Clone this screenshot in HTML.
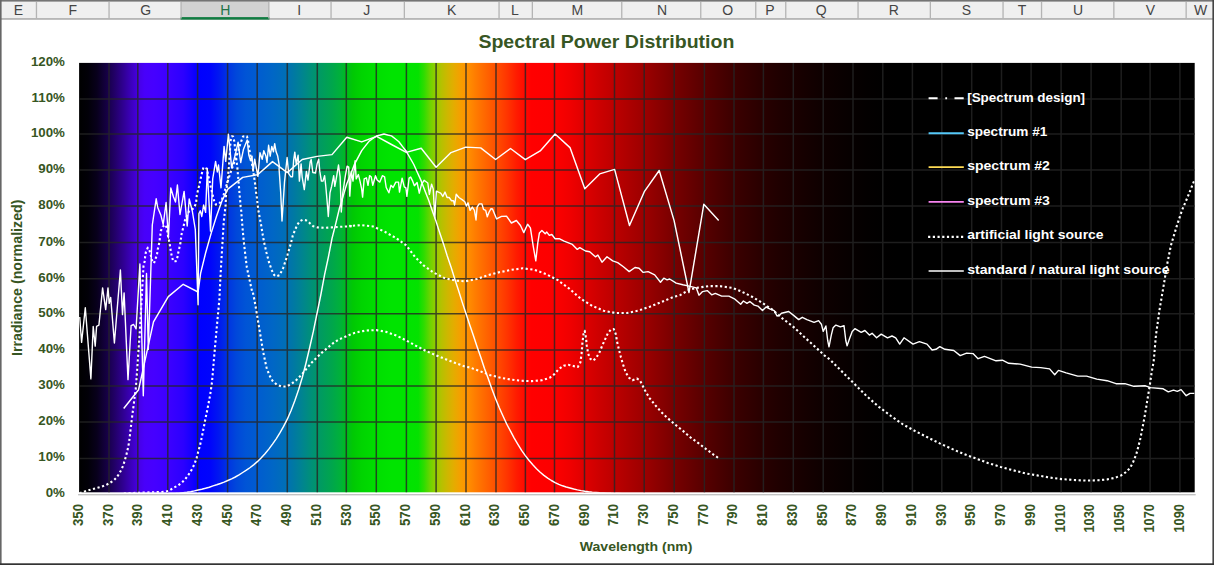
<!DOCTYPE html>
<html lang="en"><head><meta charset="utf-8"><title>Spectral Power Distribution</title>
<style>
html,body{margin:0;padding:0;background:#fff;}
body{width:1214px;height:565px;overflow:hidden;position:relative;font-family:"Liberation Sans",sans-serif;}
svg{position:absolute;left:0;top:0;display:block;}
text{font-family:"Liberation Sans",sans-serif;}
.hd{font-size:14px;fill:#444;text-anchor:middle;}
.ax{font-size:13px;font-weight:bold;fill:#375623;}
.lg{font-size:12.3px;font-weight:bold;fill:#fff;}
</style></head><body>
<svg width="1214" height="565" viewBox="0 0 1214 565">
<defs><linearGradient id="spec" x1="0" y1="0" x2="1" y2="0"><stop offset="0.0000" stop-color="#000000"/><stop offset="0.0080" stop-color="#020008"/><stop offset="0.0160" stop-color="#08001c"/><stop offset="0.0240" stop-color="#140040"/><stop offset="0.0320" stop-color="#220068"/><stop offset="0.0400" stop-color="#300094"/><stop offset="0.0480" stop-color="#3e00c4"/><stop offset="0.0533" stop-color="#4600e6"/><stop offset="0.0587" stop-color="#4800fa"/><stop offset="0.0667" stop-color="#4600ff"/><stop offset="0.0800" stop-color="#3c00ff"/><stop offset="0.0933" stop-color="#2c00ff"/><stop offset="0.1013" stop-color="#1400ff"/><stop offset="0.1067" stop-color="#0000ff"/><stop offset="0.1173" stop-color="#0004fc"/><stop offset="0.1253" stop-color="#0018f0"/><stop offset="0.1333" stop-color="#0034e2"/><stop offset="0.1413" stop-color="#0048da"/><stop offset="0.1493" stop-color="#0054d6"/><stop offset="0.1600" stop-color="#005cd0"/><stop offset="0.1733" stop-color="#0066c6"/><stop offset="0.1840" stop-color="#006eb8"/><stop offset="0.1920" stop-color="#0078a4"/><stop offset="0.2000" stop-color="#008490"/><stop offset="0.2080" stop-color="#009078"/><stop offset="0.2160" stop-color="#009a62"/><stop offset="0.2267" stop-color="#00a64c"/><stop offset="0.2347" stop-color="#00b238"/><stop offset="0.2400" stop-color="#00bc1c"/><stop offset="0.2453" stop-color="#00c804"/><stop offset="0.2533" stop-color="#00d400"/><stop offset="0.2667" stop-color="#00de00"/><stop offset="0.2800" stop-color="#00e400"/><stop offset="0.2933" stop-color="#00e400"/><stop offset="0.3040" stop-color="#04e200"/><stop offset="0.3093" stop-color="#30dc00"/><stop offset="0.3147" stop-color="#6cd400"/><stop offset="0.3200" stop-color="#98cc00"/><stop offset="0.3253" stop-color="#b8c000"/><stop offset="0.3307" stop-color="#d0b600"/><stop offset="0.3360" stop-color="#e4ac00"/><stop offset="0.3413" stop-color="#f4a000"/><stop offset="0.3467" stop-color="#ff9400"/><stop offset="0.3547" stop-color="#ff7e00"/><stop offset="0.3627" stop-color="#ff6a00"/><stop offset="0.3733" stop-color="#ff5000"/><stop offset="0.3840" stop-color="#ff3400"/><stop offset="0.3920" stop-color="#ff1c00"/><stop offset="0.4000" stop-color="#ff0800"/><stop offset="0.4053" stop-color="#ff0000"/><stop offset="0.4267" stop-color="#fc0000"/><stop offset="0.4400" stop-color="#f00000"/><stop offset="0.4533" stop-color="#de0000"/><stop offset="0.4667" stop-color="#cc0000"/><stop offset="0.4800" stop-color="#bc0000"/><stop offset="0.4933" stop-color="#ac0000"/><stop offset="0.5067" stop-color="#9c0000"/><stop offset="0.5200" stop-color="#8a0000"/><stop offset="0.5333" stop-color="#780000"/><stop offset="0.5467" stop-color="#680000"/><stop offset="0.5600" stop-color="#580000"/><stop offset="0.5733" stop-color="#4a0000"/><stop offset="0.5867" stop-color="#3c0000"/><stop offset="0.6000" stop-color="#320000"/><stop offset="0.6133" stop-color="#280000"/><stop offset="0.6267" stop-color="#200000"/><stop offset="0.6400" stop-color="#1a0000"/><stop offset="0.6533" stop-color="#140000"/><stop offset="0.6667" stop-color="#0e0000"/><stop offset="0.6800" stop-color="#0a0000"/><stop offset="0.6933" stop-color="#060000"/><stop offset="0.7067" stop-color="#030000"/><stop offset="0.7200" stop-color="#010000"/><stop offset="0.7333" stop-color="#000000"/><stop offset="1.0000" stop-color="#000000"/></linearGradient><clipPath id="pc"><rect x="79.1" y="62.9" width="1115.6" height="429.9"/></clipPath></defs>
<rect x="0" y="0" width="1214" height="565" fill="#fff"/>
<rect x="0" y="0" width="1214" height="19.4" fill="#efefef"/>
<rect x="181" y="1.5" width="87.8" height="17" fill="#d2d2d2"/>
<rect x="0" y="18.2" width="1214" height="1.5" fill="#a8a8a8"/>
<rect x="180.6" y="17.1" width="88.8" height="2.5" fill="#107c41"/>
<rect x="35.8" y="2" width="1.3" height="16.5" fill="#b4b4b4"/><rect x="108.4" y="2" width="1.3" height="16.5" fill="#b4b4b4"/><rect x="180.4" y="2" width="1.3" height="16.5" fill="#b4b4b4"/><rect x="268.2" y="2" width="1.3" height="16.5" fill="#b4b4b4"/><rect x="330.4" y="2" width="1.3" height="16.5" fill="#b4b4b4"/><rect x="403.7" y="2" width="1.3" height="16.5" fill="#b4b4b4"/><rect x="498.4" y="2" width="1.3" height="16.5" fill="#b4b4b4"/><rect x="531.7" y="2" width="1.3" height="16.5" fill="#b4b4b4"/><rect x="621.1" y="2" width="1.3" height="16.5" fill="#b4b4b4"/><rect x="700.1" y="2" width="1.3" height="16.5" fill="#b4b4b4"/><rect x="755.1" y="2" width="1.3" height="16.5" fill="#b4b4b4"/><rect x="785.1" y="2" width="1.3" height="16.5" fill="#b4b4b4"/><rect x="857.4" y="2" width="1.3" height="16.5" fill="#b4b4b4"/><rect x="929.7" y="2" width="1.3" height="16.5" fill="#b4b4b4"/><rect x="1002.4" y="2" width="1.3" height="16.5" fill="#b4b4b4"/><rect x="1040.9" y="2" width="1.3" height="16.5" fill="#b4b4b4"/><rect x="1113.2" y="2" width="1.3" height="16.5" fill="#b4b4b4"/><rect x="1185.5" y="2" width="1.3" height="16.5" fill="#b4b4b4"/>
<text class="hd" x="18.3" y="14.6" fill="#444" style="fill:#444">E</text><text class="hd" x="72.7" y="14.6" fill="#444" style="fill:#444">F</text><text class="hd" x="145.7" y="14.6" fill="#444" style="fill:#444">G</text><text class="hd" x="225.3" y="14.6" fill="#217346" style="fill:#217346">H</text><text class="hd" x="299.3" y="14.6" fill="#444" style="fill:#444">I</text><text class="hd" x="366.7" y="14.6" fill="#444" style="fill:#444">J</text><text class="hd" x="451.7" y="14.6" fill="#444" style="fill:#444">K</text><text class="hd" x="515.0" y="14.6" fill="#444" style="fill:#444">L</text><text class="hd" x="577.3" y="14.6" fill="#444" style="fill:#444">M</text><text class="hd" x="662.0" y="14.6" fill="#444" style="fill:#444">N</text><text class="hd" x="727.7" y="14.6" fill="#444" style="fill:#444">O</text><text class="hd" x="770.0" y="14.6" fill="#444" style="fill:#444">P</text><text class="hd" x="821.1" y="14.6" fill="#444" style="fill:#444">Q</text><text class="hd" x="893.8" y="14.6" fill="#444" style="fill:#444">R</text><text class="hd" x="966.4" y="14.6" fill="#444" style="fill:#444">S</text><text class="hd" x="1022.0" y="14.6" fill="#444" style="fill:#444">T</text><text class="hd" x="1078.0" y="14.6" fill="#444" style="fill:#444">U</text><text class="hd" x="1150.3" y="14.6" fill="#444" style="fill:#444">V</text><text class="hd" x="1200.5" y="14.6" fill="#444" style="fill:#444">W</text>
<rect x="0" y="0" width="1214" height="1.6" fill="#747474"/><rect x="0" y="0" width="1.6" height="565" fill="#666"/><rect x="1212.4" y="0" width="1.6" height="565" fill="#444"/><rect x="0" y="563.3" width="1214" height="1.7" fill="#333"/>
<text x="606.4" y="47.9" text-anchor="middle" font-size="18.7" font-weight="bold" fill="#375623" textLength="256" lengthAdjust="spacingAndGlyphs">Spectral Power Distribution</text>
<rect x="79.1" y="62.9" width="1115.6" height="429.4" fill="url(#spec)"/>
<path d="M109.00 62.9V492.3M137.80 62.9V492.3M167.80 62.9V492.3M197.60 62.9V492.3M227.60 62.9V492.3M257.20 62.9V492.3M287.30 62.9V492.3M317.30 62.9V492.3M346.30 62.9V492.3M376.30 62.9V492.3M406.40 62.9V492.3M436.10 62.9V492.3M466.00 62.9V492.3M496.00 62.9V492.3M525.40 62.9V492.3M554.50 62.9V492.3M584.50 62.9V492.3M614.50 62.9V492.3M644.20 62.9V492.3M674.20 62.9V492.3M704.40 62.9V492.3M734.00 62.9V492.3M763.40 62.9V492.3M793.30 62.9V492.3M823.20 62.9V492.3M853.00 62.9V492.3M882.80 62.9V492.3M912.40 62.9V492.3M941.80 62.9V492.3M971.70 62.9V492.3M1001.50 62.9V492.3M1031.10 62.9V492.3M1061.10 62.9V492.3M1091.10 62.9V492.3M1121.20 62.9V492.3M1150.10 62.9V492.3M1179.90 62.9V492.3M79.1 99.00H1194.7M79.1 134.00H1194.7M79.1 170.00H1194.7M79.1 206.10H1194.7M79.1 242.55H1194.7M79.1 278.80H1194.7M79.1 313.85H1194.7M79.1 349.90H1194.7M79.1 386.00H1194.7M79.1 422.10H1194.7M79.1 458.45H1194.7" stroke="#262626" stroke-opacity="0.8" stroke-width="1.5" fill="none"/>
<rect x="78.1" y="494.05" width="1117.6" height="1.3" fill="#bfbfbf"/>
<text class="ax" x="64.9" y="497.3" text-anchor="end" style="font-size:13.3px">0%</text><text class="ax" x="64.9" y="461.3" text-anchor="end" style="font-size:13.3px">10%</text><text class="ax" x="64.9" y="425.0" text-anchor="end" style="font-size:13.3px">20%</text><text class="ax" x="64.9" y="388.9" text-anchor="end" style="font-size:13.3px">30%</text><text class="ax" x="64.9" y="352.8" text-anchor="end" style="font-size:13.3px">40%</text><text class="ax" x="64.9" y="316.8" text-anchor="end" style="font-size:13.3px">50%</text><text class="ax" x="64.9" y="281.7" text-anchor="end" style="font-size:13.3px">60%</text><text class="ax" x="64.9" y="245.5" text-anchor="end" style="font-size:13.3px">70%</text><text class="ax" x="64.9" y="209.0" text-anchor="end" style="font-size:13.3px">80%</text><text class="ax" x="64.9" y="172.9" text-anchor="end" style="font-size:13.3px">90%</text><text class="ax" x="64.9" y="136.9" text-anchor="end" style="font-size:13.3px">100%</text><text class="ax" x="64.9" y="101.9" text-anchor="end" style="font-size:13.3px">110%</text><text class="ax" x="64.9" y="66.1" text-anchor="end" style="font-size:13.3px">120%</text>
<text class="ax" style="font-size:13.8px" transform="translate(82.8,526.0) rotate(-90)" textLength="22.0" lengthAdjust="spacingAndGlyphs">350</text><text class="ax" style="font-size:13.8px" transform="translate(112.5,526.0) rotate(-90)" textLength="22.0" lengthAdjust="spacingAndGlyphs">370</text><text class="ax" style="font-size:13.8px" transform="translate(142.3,526.0) rotate(-90)" textLength="22.0" lengthAdjust="spacingAndGlyphs">390</text><text class="ax" style="font-size:13.8px" transform="translate(172.0,526.0) rotate(-90)" textLength="22.0" lengthAdjust="spacingAndGlyphs">410</text><text class="ax" style="font-size:13.8px" transform="translate(201.8,526.0) rotate(-90)" textLength="22.0" lengthAdjust="spacingAndGlyphs">430</text><text class="ax" style="font-size:13.8px" transform="translate(231.5,526.0) rotate(-90)" textLength="22.0" lengthAdjust="spacingAndGlyphs">450</text><text class="ax" style="font-size:13.8px" transform="translate(261.3,526.0) rotate(-90)" textLength="22.0" lengthAdjust="spacingAndGlyphs">470</text><text class="ax" style="font-size:13.8px" transform="translate(291.0,526.0) rotate(-90)" textLength="22.0" lengthAdjust="spacingAndGlyphs">490</text><text class="ax" style="font-size:13.8px" transform="translate(320.8,526.0) rotate(-90)" textLength="22.0" lengthAdjust="spacingAndGlyphs">510</text><text class="ax" style="font-size:13.8px" transform="translate(350.5,526.0) rotate(-90)" textLength="22.0" lengthAdjust="spacingAndGlyphs">530</text><text class="ax" style="font-size:13.8px" transform="translate(380.3,526.0) rotate(-90)" textLength="22.0" lengthAdjust="spacingAndGlyphs">550</text><text class="ax" style="font-size:13.8px" transform="translate(410.0,526.0) rotate(-90)" textLength="22.0" lengthAdjust="spacingAndGlyphs">570</text><text class="ax" style="font-size:13.8px" transform="translate(439.8,526.0) rotate(-90)" textLength="22.0" lengthAdjust="spacingAndGlyphs">590</text><text class="ax" style="font-size:13.8px" transform="translate(469.5,526.0) rotate(-90)" textLength="22.0" lengthAdjust="spacingAndGlyphs">610</text><text class="ax" style="font-size:13.8px" transform="translate(499.3,526.0) rotate(-90)" textLength="22.0" lengthAdjust="spacingAndGlyphs">630</text><text class="ax" style="font-size:13.8px" transform="translate(529.0,526.0) rotate(-90)" textLength="22.0" lengthAdjust="spacingAndGlyphs">650</text><text class="ax" style="font-size:13.8px" transform="translate(558.8,526.0) rotate(-90)" textLength="22.0" lengthAdjust="spacingAndGlyphs">670</text><text class="ax" style="font-size:13.8px" transform="translate(588.5,526.0) rotate(-90)" textLength="22.0" lengthAdjust="spacingAndGlyphs">690</text><text class="ax" style="font-size:13.8px" transform="translate(618.3,526.0) rotate(-90)" textLength="22.0" lengthAdjust="spacingAndGlyphs">710</text><text class="ax" style="font-size:13.8px" transform="translate(648.0,526.0) rotate(-90)" textLength="22.0" lengthAdjust="spacingAndGlyphs">730</text><text class="ax" style="font-size:13.8px" transform="translate(677.8,526.0) rotate(-90)" textLength="22.0" lengthAdjust="spacingAndGlyphs">750</text><text class="ax" style="font-size:13.8px" transform="translate(707.5,526.0) rotate(-90)" textLength="22.0" lengthAdjust="spacingAndGlyphs">770</text><text class="ax" style="font-size:13.8px" transform="translate(737.3,526.0) rotate(-90)" textLength="22.0" lengthAdjust="spacingAndGlyphs">790</text><text class="ax" style="font-size:13.8px" transform="translate(767.0,526.0) rotate(-90)" textLength="22.0" lengthAdjust="spacingAndGlyphs">810</text><text class="ax" style="font-size:13.8px" transform="translate(796.8,526.0) rotate(-90)" textLength="22.0" lengthAdjust="spacingAndGlyphs">830</text><text class="ax" style="font-size:13.8px" transform="translate(826.5,526.0) rotate(-90)" textLength="22.0" lengthAdjust="spacingAndGlyphs">850</text><text class="ax" style="font-size:13.8px" transform="translate(856.3,526.0) rotate(-90)" textLength="22.0" lengthAdjust="spacingAndGlyphs">870</text><text class="ax" style="font-size:13.8px" transform="translate(886.0,526.0) rotate(-90)" textLength="22.0" lengthAdjust="spacingAndGlyphs">890</text><text class="ax" style="font-size:13.8px" transform="translate(915.8,526.0) rotate(-90)" textLength="22.0" lengthAdjust="spacingAndGlyphs">910</text><text class="ax" style="font-size:13.8px" transform="translate(945.5,526.0) rotate(-90)" textLength="22.0" lengthAdjust="spacingAndGlyphs">930</text><text class="ax" style="font-size:13.8px" transform="translate(975.3,526.0) rotate(-90)" textLength="22.0" lengthAdjust="spacingAndGlyphs">950</text><text class="ax" style="font-size:13.8px" transform="translate(1005.0,526.0) rotate(-90)" textLength="22.0" lengthAdjust="spacingAndGlyphs">970</text><text class="ax" style="font-size:13.8px" transform="translate(1034.8,526.0) rotate(-90)" textLength="22.0" lengthAdjust="spacingAndGlyphs">990</text><text class="ax" style="font-size:13.8px" transform="translate(1064.5,532.6) rotate(-90)" textLength="28.6" lengthAdjust="spacingAndGlyphs">1010</text><text class="ax" style="font-size:13.8px" transform="translate(1094.3,532.6) rotate(-90)" textLength="28.6" lengthAdjust="spacingAndGlyphs">1030</text><text class="ax" style="font-size:13.8px" transform="translate(1124.0,532.6) rotate(-90)" textLength="28.6" lengthAdjust="spacingAndGlyphs">1050</text><text class="ax" style="font-size:13.8px" transform="translate(1153.8,532.6) rotate(-90)" textLength="28.6" lengthAdjust="spacingAndGlyphs">1070</text><text class="ax" style="font-size:13.8px" transform="translate(1183.5,532.6) rotate(-90)" textLength="28.6" lengthAdjust="spacingAndGlyphs">1090</text>
<text class="ax" x="636.1" y="550.7" text-anchor="middle" textLength="112.6" lengthAdjust="spacingAndGlyphs">Wavelength (nm)</text>
<text class="ax" transform="translate(21.8,356) rotate(-90)" font-size="14" style="font-size:14px" textLength="156.5" lengthAdjust="spacingAndGlyphs">Irradiance (normalized)</text>
<g clip-path="url(#pc)" fill="none" stroke="#fff" stroke-linejoin="round">
<path d="M123.7 408.5L138.6 389.7L153.5 321.8L168.3 296.6L183.2 284.3L198.1 292.0L200.6 273.4L205.8 252.2L211.2 233.1L216.5 216.2L221.9 201.0L227.8 189.1L242.7 177.4L257.6 174.7L272.5 161.6L287.3 172.6L302.2 159.5L317.1 156.4L332.0 154.6L346.8 137.2L361.7 141.9L376.6 136.4L391.5 144.5L406.3 152.4L421.2 148.3L436.1 167.3L451.0 152.6L465.8 147.1L480.7 147.9L495.6 159.5L510.5 148.5L525.3 159.7L540.2 150.9L555.1 134.0L570.0 147.6L584.8 188.7L599.7 173.9L614.6 169.4L629.5 225.5L644.3 191.7L659.2 170.5L674.1 220.6L689.0 292.5L703.8 204.3L718.7 220.5" stroke-width="1.45"/>
<path d="M123.7 494.1L127.4 494.1L131.2 494.1L134.9 494.1L138.6 494.1L142.3 494.1L146.0 494.1L149.8 494.0L153.5 494.0L157.2 494.0L160.9 493.9L164.6 493.8L168.3 493.7L172.1 493.6L175.8 493.4L179.5 493.1L183.2 492.7L186.9 492.3L190.7 491.7L194.4 490.9L198.1 490.0L201.8 489.2L205.5 488.3L209.3 487.2L213.0 485.9L216.7 484.8L220.4 483.5L224.1 482.1L227.8 480.5L231.6 478.8L235.3 477.0L239.0 474.9L242.7 472.5L246.4 470.2L250.2 467.5L253.9 464.6L257.6 461.4L261.3 457.7L265.0 453.7L268.8 449.1L272.5 444.1L276.2 438.8L279.9 432.9L283.6 426.4L287.3 419.2L291.1 410.5L294.8 400.8L298.5 390.0L302.2 377.8L305.9 363.5L309.7 347.5L313.4 331.2L317.1 313.0L320.8 295.0L324.5 275.1L328.3 257.5L332.0 238.5L335.7 223.9L339.4 208.5L343.1 196.4L346.8 183.7L350.6 174.4L354.3 164.7L358.0 157.7L361.7 150.6L365.4 145.9L369.2 141.1L372.9 138.5L376.6 135.9L380.3 135.0L384.0 134.0L387.7 135.0L391.5 135.9L395.2 138.8L398.9 141.8L402.6 146.6L406.3 151.3L410.1 158.0L413.8 164.5L417.5 172.8L421.2 180.9L424.9 190.7L428.7 200.2L432.4 211.1L436.1 221.6L439.8 233.0L443.5 243.9L447.2 255.7L451.0 266.9L454.7 278.8L458.4 290.0L462.1 301.9L465.8 313.0L469.6 324.5L473.3 335.3L477.0 346.5L480.7 357.0L484.4 368.2L488.2 378.6L491.9 389.1L495.6 398.7L499.3 407.8L503.0 416.0L506.7 424.0L510.5 431.1L514.2 438.1L517.9 444.4L521.6 450.4L525.3 455.6L529.1 460.5L532.8 464.8L536.5 468.7L540.2 472.2L543.9 475.4L547.7 478.1L551.4 480.5L555.1 482.6L558.8 484.3L562.5 485.8L566.2 487.0L570.0 488.0L573.7 489.0L577.4 489.9L581.1 490.6L584.8 491.2L588.6 491.7L592.3 492.1L596.0 492.4L599.7 492.7L603.4 492.9L607.2 493.1L610.9 493.3L614.6 493.4L618.3 493.5L622.0 493.6L625.7 493.7L629.5 493.8L633.2 493.8L636.9 493.9L640.6 493.9L644.3 494.0L648.1 494.0L651.8 494.0L655.5 494.0L659.2 494.1L662.9 494.1L666.6 494.1L670.4 494.1L674.1 494.1L677.8 494.1L681.5 494.1L685.2 494.1L689.0 494.1L692.7 494.1L696.4 494.1L700.1 494.1L703.8 494.1L707.6 494.1L711.3 494.1L715.0 494.1L718.7 494.1" stroke-width="1.45"/>
<path d="M79.7 317.0L81.6 342.4L85.3 307.8L90.9 378.9L93.2 326.5L95.2 346.1L96.6 326.3L98.9 325.2L102.6 287.9L105.7 309.6L108.0 287.9L109.2 303.4L110.7 297.5L114.4 343.0L120.4 270.0L122.5 314.6L124.1 292.9L128.0 379.6L131.1 325.7L133.6 324.5L136.1 328.8L139.9 264.0L143.3 395.7L146.5 273.5L148.3 349.5L152.3 225.0L156.2 198.8L157.7 207.4L160.8 214.9L163.2 224.5L166.1 202.5L168.4 238.0L170.8 188.0L173.5 197.0L175.5 202.0L177.4 185.0L180.0 214.5L184.1 191.4L187.2 226.0L189.2 199.0L192.3 211.0L195.3 229.5L198.1 304.7L198.9 213.7L200.3 210.8L201.8 216.5L203.6 205.0L205.6 212.4L207.3 169.2L210.5 231.1L212.7 179.0L215.6 161.4L217.3 172.0L218.5 165.0L221.0 187.8L224.1 146.4L225.7 161.4L228.4 134.1L230.0 149.6L231.6 167.8L233.8 160.3L235.9 151.8L238.1 142.1L239.7 155.0L240.7 162.5L243.4 149.6L247.2 140.0L248.8 155.0L250.4 160.3L252.0 156.1L253.1 171.1L254.7 159.3L256.3 167.8L257.9 176.4L260.0 152.8L262.2 159.3L263.8 150.7L265.9 156.1L267.0 162.5L268.6 145.3L270.2 156.1L271.8 146.4L273.4 151.8L274.7 143.7L276.1 151.8L277.7 156.1L279.3 165.7L279.1 169.3L280.7 192.8L282.0 221.0L284.5 182.1L287.1 157.5L288.7 173.6L290.9 176.8L292.5 176.8L293.6 160.7L294.8 152.1L296.2 163.9L298.1 155.3L299.4 181.1L301.1 163.9L302.1 176.8L304.3 189.6L306.4 171.4L308.0 180.0L310.2 161.8L311.2 159.6L312.8 172.5L315.5 173.0L317.1 163.9L318.7 159.1L319.8 171.4L321.4 181.1L323.0 181.1L324.6 175.7L325.7 185.3L327.3 203.5L328.3 216.5L330.0 192.8L331.6 186.4L333.7 175.7L334.8 186.4L336.4 177.8L338.5 165.0L340.1 176.8L341.3 212.0L342.8 192.8L345.0 177.8L347.1 166.1L348.7 167.1L349.8 196.1L351.4 171.4L353.0 181.1L355.1 160.7L356.2 178.9L358.4 174.6L360.0 181.1L361.6 188.6L362.6 197.1L364.2 178.9L366.4 177.8L368.0 185.3L369.6 175.7L371.2 176.8L372.8 185.3L375.5 175.7L377.1 180.0L379.8 182.1L382.4 175.7L384.6 176.8L386.2 187.5L388.9 192.8L391.0 185.3L393.1 187.5L395.8 182.1L398.5 182.1L399.5 192.1L402.1 178.2L404.3 186.8L405.9 187.8L406.9 196.4L409.1 178.2L410.7 177.1L412.8 181.4L414.4 185.7L417.1 182.5L419.3 193.2L421.4 184.6L424.1 180.3L427.8 183.0L429.4 194.3L431.6 184.1L433.2 188.9L434.8 217.8L436.4 191.1L438.5 192.1L440.7 193.2L442.8 196.4L445.0 192.1L447.1 197.5L449.2 197.5L451.4 200.7L453.5 200.7L454.6 205.0L456.2 194.3L458.9 197.5L462.1 199.6L464.8 201.8L466.4 206.1L468.0 202.8L470.1 210.3L472.3 207.1L474.4 210.3L476.0 220.0L477.1 207.1L479.2 203.9L481.9 203.9L483.5 209.3L485.7 210.3L487.3 216.8L488.9 212.5L491.0 208.7L492.5 209.0L496.6 218.9L501.5 216.4L506.5 216.1L511.4 223.0L516.4 220.5L520.5 225.5L523.8 232.6L527.6 224.3L530.4 227.9L533.2 246.1L535.8 260.9L537.8 242.8L539.4 232.9L541.9 230.4L545.2 233.7L546.8 232.1L549.3 235.4L551.8 234.5L555.1 238.7L559.2 238.7L564.1 241.1L572.4 244.4L577.3 249.4L579.8 247.7L585.5 251.0L589.7 251.8L595.4 256.8L597.9 255.1L602.0 262.2L607.0 256.8L612.7 260.9L617.7 262.6L623.4 266.7L629.2 271.6L635.0 267.5L639.1 268.3L643.2 272.4L648.1 271.6L654.7 274.9L660.5 282.3L663.8 278.2L667.1 279.8L669.6 279.0L676.2 283.1L682.8 284.8L689.1 286.1L696.3 287.9L699.0 295.2L702.6 291.6L707.2 290.6L711.7 294.8L715.3 293.4L721.7 296.1L728.9 296.1L734.4 298.8L740.7 304.2L743.4 301.0L747.0 303.3L749.8 301.5L754.3 305.1L757.9 306.1L762.5 310.6L766.1 307.0L769.7 308.8L774.2 310.6L777.0 316.0L779.7 315.1L781.5 313.3L788.7 311.5L793.3 315.1L798.7 319.6L802.3 317.3L806.9 319.6L814.1 322.4L818.6 320.6L821.4 324.2L823.2 331.4L825.9 326.0L827.7 340.5L829.0 346.8L831.3 335.1L833.1 327.8L835.9 325.1L840.4 326.9L844.0 325.6L845.8 340.5L847.1 345.9L849.5 338.7L852.2 331.4L854.9 328.7L861.2 332.3L864.9 330.5L869.4 335.1L872.1 333.2L876.6 337.8L881.2 334.1L887.5 337.8L892.0 336.0L895.7 337.8L899.7 344.1L904.0 337.8L913.0 344.1L919.4 341.6L927.0 344.1L932.1 350.0L936.0 349.3L939.8 346.7L944.9 349.3L953.8 350.5L960.2 355.6L966.6 353.1L973.0 353.6L978.1 358.7L984.5 356.4L996.0 360.8L1002.4 360.2L1008.7 363.3L1020.2 364.1L1031.7 367.1L1040.7 367.6L1049.6 368.9L1054.7 374.8L1058.5 370.4L1066.2 372.8L1077.7 376.1L1086.6 376.1L1096.8 379.1L1107.1 380.7L1116.0 383.7L1124.9 383.7L1133.9 386.3L1145.4 385.8L1150.5 387.6L1163.2 388.8L1168.3 391.9L1173.5 390.1L1177.3 391.4L1181.1 389.6L1186.2 395.7L1190.0 393.4L1194.4 393.4" stroke-width="1.4"/>
<path d="M79.5 493.2L82.8 492.1L87.6 490.5L92.4 489.1L96.7 488.0L101.2 486.8L105.7 485.2L109.7 483.0L113.7 480.4L116.8 477.2L119.3 473.5L121.6 469.2L123.4 465.0L124.8 460.2L126.1 455.9L127.2 451.5L128.2 446.9L129.1 442.1L131.6 421.0L132.6 412.8L133.6 405.6L134.6 397.4L135.7 389.2L136.3 382.1L139.8 332.0L143.5 266.0L144.7 261.3L145.1 257.0L145.9 252.0L147.8 247.7L149.6 250.8L150.9 255.7L152.1 260.7L154.0 263.2L155.8 258.2L157.1 253.9L157.7 249.6L158.9 244.6L159.6 240.3L160.2 235.9L160.8 231.0L162.6 226.6L165.7 224.8L167.0 229.1L167.6 233.4L168.2 237.2L169.5 242.7L170.3 247.7L170.9 252.0L171.9 256.4L173.2 261.3L175.7 261.3L177.5 257.0L178.4 252.0L179.4 247.7L180.4 243.3L181.0 238.4L181.6 234.1L182.7 229.7L183.9 224.8L184.9 220.4L186.8 216.1L188.7 211.8L191.8 209.9L194.2 207.4L196.1 203.1L196.8 195.1L199.2 185.5L201.6 174.4L203.5 167.2L207.1 168.8L207.9 174.4L209.5 180.8L211.1 188.7L212.7 195.1L214.3 201.5L215.9 204.6L219.1 203.8L221.5 200.7L223.5 195.1L225.4 188.7L227.4 182.3L229.4 176.0L231.8 168.8L234.2 162.4L236.3 156.9L238.2 151.3L239.8 145.7L241.4 140.9L243.0 136.5L246.9 136.2L248.1 140.9L249.0 147.3L250.1 153.7L251.2 160.0L252.5 166.4L253.3 171.2L254.4 179.2L255.4 185.5L256.0 191.9L257.0 198.3L257.6 204.6L258.6 211.8L261.4 226.5L262.8 235.4L264.5 244.2L266.6 253.1L268.9 261.9L271.6 269.9L274.3 275.2L276.0 276.4L279.6 275.2L283.1 268.1L285.8 260.1L287.5 254.8L289.3 248.7L291.1 242.5L292.8 235.4L295.0 230.1L297.3 224.8L299.9 221.2L302.6 219.8L306.1 220.3L309.6 223.0L313.2 226.2L317.6 227.4L324.7 227.9L331.8 227.4L338.8 226.9L345.9 226.5L353.0 226.2L350.0 225.9L361.5 225.1L373.1 226.5L384.6 231.7L396.1 238.1L406.2 245.3L414.9 256.8L423.5 265.4L433.6 272.6L445.1 278.4L456.7 280.7L465.3 281.3L476.8 279.0L488.4 275.0L499.9 272.1L511.4 269.8L523.0 268.3L534.5 269.8L546.0 274.1L557.5 279.9L569.1 288.5L580.6 298.6L592.1 305.8L603.7 310.7L615.2 313.0L626.7 313.0L638.3 310.7L649.8 306.7L661.3 302.1L672.9 297.2L680.0 295.2L689.1 289.8L698.1 287.6L709.0 286.1L719.9 286.1L732.6 287.9L741.6 291.6L752.5 297.0L761.5 302.4L772.4 309.7L781.5 317.8L792.4 326.0L803.2 336.0L814.1 345.9L825.0 355.9L830.0 359.6L842.2 371.8L854.4 383.9L866.6 396.1L878.8 406.8L891.0 416.0L903.1 424.5L915.3 431.2L927.5 437.3L939.7 443.4L951.9 448.9L964.1 454.1L976.3 458.6L988.5 463.2L1000.7 466.9L1012.9 470.2L1025.1 473.3L1037.2 475.4L1049.5 477.5L1061.6 479.1L1073.8 480.0L1086.0 480.6L1098.2 480.3L1107.3 479.4L1115.0 477.8L1121.1 475.4L1125.6 472.3L1130.2 467.8L1133.3 461.7L1136.3 454.1L1138.4 446.4L1140.3 438.8L1142.1 429.7L1143.9 420.5L1145.5 411.4L1147.0 402.2L1148.5 393.1L1150.0 383.9L1151.5 373.3L1153.7 361.1L1156.0 334.7L1159.7 308.7L1163.5 286.4L1167.2 264.1L1170.9 245.5L1176.5 226.9L1182.0 210.2L1187.6 197.2L1191.3 187.9L1194.3 180.4" stroke-width="2.1" stroke-dasharray="2.2 2.5"/>
<path d="M123.8 493.3L165.4 491.8L169.5 490.4L173.6 487.7L177.7 485.7L181.8 482.6L184.9 479.5L188.0 475.4L190.4 471.9L192.5 468.2L194.6 463.7L196.6 458.0L198.2 451.8L199.9 445.7L201.3 439.5L202.8 432.3L204.4 424.1L205.8 416.9L207.1 410.8L208.5 403.6L209.9 396.4L211.0 389.2L212.0 382.1L214.3 355.0L216.8 327.0L219.4 299.1L220.3 279.6L221.4 260.1L222.6 240.7L223.8 221.2L225.6 205.3L226.2 191.9L227.0 185.5L227.8 179.2L228.3 172.8L228.9 166.4L229.4 159.2L229.9 152.9L230.2 146.5L230.7 140.1L231.8 136.2L233.1 136.5L234.2 140.9L235.0 147.3L235.8 154.5L236.6 161.6L237.4 168.0L237.9 174.4L238.5 180.8L239.0 187.1L239.5 193.5L240.1 199.9L240.6 206.2L241.2 210.6L242.4 226.5L243.7 240.7L245.1 253.1L246.8 267.2L249.5 279.6L252.2 292.0L252.8 292.0L254.8 301.9L256.8 313.7L258.8 325.6L260.8 337.4L262.7 349.3L264.7 359.2L266.7 368.1L269.3 375.0L272.6 380.9L276.6 384.5L281.5 386.5L286.5 386.5L291.4 383.9L296.4 380.0L301.3 375.0L306.2 369.1L311.2 363.1L316.1 358.2L321.1 353.3L327.0 348.3L332.9 343.4L338.9 339.4L345.8 336.5L352.7 333.5L358.6 331.9L366.5 330.5L376.4 330.1L386.3 331.9L396.2 335.5L406.1 340.4L416.0 345.8L425.8 350.9L435.7 355.2L445.6 359.2L455.5 363.1L465.4 366.7L470.0 367.5L480.3 371.3L490.5 375.2L500.8 377.8L511.1 379.6L521.3 380.8L531.6 381.1L541.9 380.3L549.6 377.8L554.7 373.9L558.5 369.3L563.7 365.7L568.8 364.9L574.0 366.2L577.8 367.0L580.4 362.4L581.6 353.4L582.4 343.1L583.5 334.1L584.7 330.8L586.0 338.0L586.8 345.7L588.1 353.4L589.9 358.5L592.7 360.6L595.8 358.5L599.6 352.1L602.2 345.7L604.8 340.0L607.8 333.4L610.7 329.8L613.7 329.0L615.8 334.1L617.1 341.8L618.9 349.5L620.9 357.2L623.2 364.9L625.8 372.6L629.1 377.8L632.5 380.3L636.8 378.5L639.9 380.3L642.5 385.4L645.8 391.9L649.7 398.3L654.8 404.7L661.2 411.9L667.6 418.1L675.3 424.7L683.0 430.9L690.7 437.6L698.4 443.2L706.1 449.1L713.8 454.8L718.5 458.1" stroke-width="2.1" stroke-dasharray="2.2 2.5"/>
</g>
<path d="M928.6 98.3h9M945.3 98.3h1.8M954.5 98.3h9.2" stroke="#fff" stroke-width="1.9" fill="none"/><path d="M928.6 133.2H963.8" stroke="#55c8f8" stroke-width="1.9" fill="none"/><path d="M928.6 167.1H963.8" stroke="#ffdc55" stroke-width="1.9" fill="none"/><path d="M928.6 201.9H963.8" stroke="#f884f0" stroke-width="1.9" fill="none"/><path d="M928.1 236.8H964.4" stroke="#fff" stroke-width="2.2" stroke-dasharray="2.2 2.5" fill="none"/><path d="M928.6 271.0H963.8" stroke="#fff" stroke-width="1.4" fill="none"/>
<text class="lg" x="967.2" y="102.0" textLength="117.9" lengthAdjust="spacingAndGlyphs">[Spectrum design]</text><text class="lg" x="967.2" y="135.6" textLength="80.1" lengthAdjust="spacingAndGlyphs">spectrum #1</text><text class="lg" x="967.2" y="170.0" textLength="82.7" lengthAdjust="spacingAndGlyphs">spectrum #2</text><text class="lg" x="967.2" y="204.9" textLength="82.7" lengthAdjust="spacingAndGlyphs">spectrum #3</text><text class="lg" x="967.2" y="239.2" textLength="136.4" lengthAdjust="spacingAndGlyphs">artificial light source</text><text class="lg" x="967.2" y="274.1" textLength="202.4" lengthAdjust="spacingAndGlyphs">standard / natural light source</text>
</svg>
</body></html>
